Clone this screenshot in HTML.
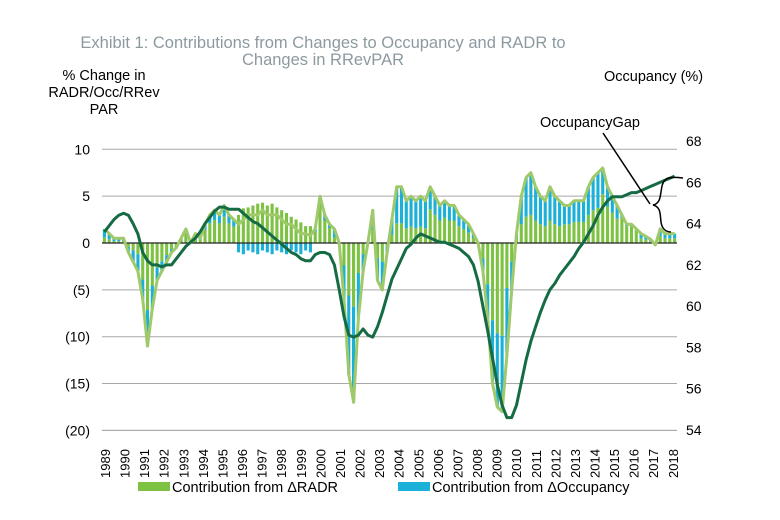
<!DOCTYPE html>
<html><head><meta charset="utf-8"><style>
body{margin:0;background:#fff;}
svg{display:block;font-family:"Liberation Sans",Arial,sans-serif;}
</style></head><body>
<svg id="c" width="780" height="520" viewBox="0 0 780 520" xmlns="http://www.w3.org/2000/svg">
<rect width="780" height="520" fill="#fff"/>
<text x="323" y="48" font-size="16.5" fill="#8c9aa0" text-anchor="middle">Exhibit 1: Contributions from Changes to Occupancy and RADR to</text>
<text x="323" y="65" font-size="16.5" fill="#8c9aa0" text-anchor="middle">Changes in RRevPAR</text>
<text x="104" y="80" font-size="14.5" text-anchor="middle">% Change in</text>
<text x="104" y="97" font-size="14.5" text-anchor="middle">RADR/Occ/RRev</text>
<text x="104" y="114" font-size="14.5" text-anchor="middle">PAR</text>
<text x="604" y="81" font-size="14.5">Occupancy (%)</text>
<text x="540" y="127" font-size="14.5">OccupancyGap</text>
<g id="grid"></g>
<g id="bars"></g>
<g id="lines"></g>
<line x1="603" y1="133" x2="650" y2="204" stroke="#000" stroke-width="1.5"/>
<path d="M683,178 C668,176 664,178 662,186 C660,196 661,203 653,205 C661,207 660,214 661,222 C662,229 666,232 671,232" fill="none" stroke="#000" stroke-width="1.5"/>
<rect x="138" y="482" width="32" height="9" fill="#7dc242"/>
<text x="172" y="492" font-size="14.5">Contribution  from ΔRADR</text>
<rect x="398" y="482" width="32" height="9" fill="#1ab0d8"/>
<text x="432" y="492" font-size="14.5">Contribution  from ΔOccupancy</text>
</svg>
<script>
var NS="http://www.w3.org/2000/svg";
function el(p,t,a,txt){var e=document.createElementNS(NS,t);for(var k in a)e.setAttribute(k,a[k]);if(txt!==undefined)e.textContent=txt;document.getElementById(p).appendChild(e);return e;}
var X0=102,X1=677,Y0=243,S=9.37;
function yl(v){return Y0-S*v;}
function yr(o){return 430-20.64*(o-54);}
for(var v=10;v>=-20;v-=5){var y=yl(v);
 if(v!==0)el("grid","line",{x1:X0,x2:X1,y1:y,y2:y,stroke:"#a8a8a8","stroke-width":1});
 el("grid","text",{x:90,y:y+5,"font-size":14,"text-anchor":"end"},v<0?"("+(-v)+")":String(v));}
for(var o=54;o<=68;o+=2){el("grid","text",{x:686,y:yr(o)+5,"font-size":14},String(o));}
for(var yr_=1989;yr_<=2018;yr_++){var x=105+(yr_-1989)*19.58;
 el("grid","text",{x:0,y:0,"font-size":13,transform:"translate("+(x+5)+",478) rotate(-90)"},String(yr_));}
var tot=[1.5,1,0.5,0.5, 0.5,-1,-2,-3, -6,-11,-7,-4, -3,-2,-1,-0.5, 0.5,1.5,0,1, 0.5,2,3,3.5, 3,4,3,2.5, 2,2.5,3,3, 3,3.5,3,3, 3,2.5,2,2, 1.5,1,1,0.8, 1.5,5,3,2, 1.5,0,-6,-14, -17,-8,-3,0, 3.5,-4,-5,-1, 2.5,6,6,4.5, 5,4.5,5,4.5, 6,5,4,4.5, 4,4,3,2.5, 2,1,0,-3, -8,-15,-17.5,-18, -12,-5,1,5, 7,7.5,6,5, 4.5,6,5,4.5, 4,4,4.5,4.5, 4.5,6,7,7.5, 8,6,5,4, 3,2,2,1.5, 1,0.7,0.4,-0.2, 1.5,1,1,1];
var occ=[63.6,63.9,64.2,64.4, 64.5,64.4,64.0,63.5, 62.6,62.2,62.0,62.0, 61.9,62.0,62.0,62.3, 62.6,62.9,63.1,63.3, 63.6,64.0,64.3,64.6, 64.8,64.8,64.7,64.7, 64.7,64.5,64.3,64.1, 64.0,63.8,63.6,63.4, 63.2,63.0,62.8,62.6, 62.5,62.3,62.2,62.2, 62.5,62.6,62.6,62.5, 62.0,60.8,59.5,58.6, 58.5,58.6,58.9,58.6, 58.5,59,59.7,60.5, 61.3,61.8,62.3,62.8, 63.0,63.3,63.5,63.4, 63.3,63.2,63.1,63.1, 63.0,62.9,62.8,62.6, 62.4,62.0,61.2,60.0, 58.8,57.5,56.2,55.2, 54.6,54.6,55.2,56.3, 57.4,58.3,59.0,59.7, 60.3,60.8,61.1,61.5, 61.8,62.1,62.4,62.8, 63.1,63.5,63.9,64.4, 64.8,65.1,65.3,65.3, 65.3,65.4,65.5,65.5, 65.6,65.7,65.8,65.9, 66.0,66.1,66.2,66.3];
function share(i){var y=1989+Math.floor(i/4);
 if(y<1991)return 0.6; if(y<1993)return 0.35; if(y<1996)return 0.3; if(y<2000)return -0.3;
 if(y<2001)return 0.2; if(y<2004)return 0.6; if(y<2006)return 0.65; if(y<2008)return 0.4;
 if(y<2010)return 0.45; if(y<2013)return 0.6; if(y<2015)return 0.5; if(y<2016)return 0.35; if(y<2017)return 0.1; return 0.5;}
var step=(X1-X0)/120,bw=3.1;
var pts=[],ops=[];
for(var i=0;i<120;i++){
 var cx=X0+(i+0.5)*step,t=tot[i],sh=share(i),o,r;
 if(sh<0){o=-0.8-0.2*(i%3);r=t-o;}else{o=t*sh;r=t-o;}
 function bar(a,b,c){var y1=yl(a),y2=yl(b);el("bars","rect",{x:cx-bw/2,y:Math.min(y1,y2),width:bw,height:Math.abs(y2-y1),fill:c});}
 var pos=0,neg=0;
 [[r,"#7dc242"],[o,"#1ab0d8"]].forEach(function(p){var v=p[0];if(v>=0){bar(pos,pos+v,p[1]);pos+=v;}else{bar(neg,neg+v,p[1]);neg+=v;}});
 pts.push(cx.toFixed(1)+","+yl(t).toFixed(1));ops.push(cx.toFixed(1)+","+yr(occ[i]).toFixed(1));
}
el("lines","line",{x1:X0,x2:X1,y1:Y0,y2:Y0,stroke:"#222","stroke-width":1.2});
el("lines","line",{x1:X0,x2:X1,y1:yl(-20),y2:yl(-20),stroke:"#a8a8a8","stroke-width":1});
el("lines","polyline",{points:pts.join(" "),fill:"none",stroke:"#9fc96a","stroke-width":3,"stroke-linejoin":"round"});
el("lines","polyline",{points:ops.join(" "),fill:"none",stroke:"#156b43","stroke-width":3,"stroke-linejoin":"round"});
</script>
</body></html>
